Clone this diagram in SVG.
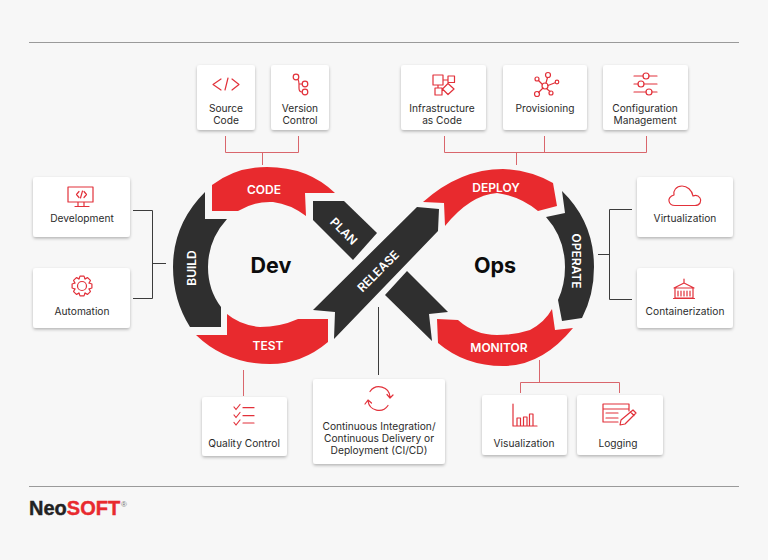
<svg xmlns="http://www.w3.org/2000/svg" width="768" height="560" viewBox="0 0 768 560">
<style>
.card{fill:#fff;filter:url(#sh)}
.t{font-family:"Inter","Liberation Sans",sans-serif;font-size:10.2px;fill:#2b2b2b;text-anchor:middle}
.s{font-family:"Inter","Liberation Sans",sans-serif;font-size:12px;font-weight:600;fill:#fff;text-anchor:middle;dominant-baseline:central}
.b{font-family:"Inter","Liberation Sans",sans-serif;font-size:21.500px;font-weight:700;fill:#0c0c0c;text-anchor:middle}
.red{fill:#e82a2e}.dark{fill:#2f2f2f}
.cr{fill:none;stroke:#d9666c;stroke-width:1}
.cd{fill:none;stroke:#3c3c3c;stroke-width:1}
.i{fill:none;stroke:#e2313a;stroke-width:1.2;stroke-linecap:round;stroke-linejoin:round}
.rule{stroke:#9a9a9a;stroke-width:1}
</style>
<defs>
<filter id="sh" x="-15%" y="-15%" width="130%" height="135%"><feDropShadow dx="0" dy="1.5" stdDeviation="1.6" flood-color="#000" flood-opacity="0.28"/></filter>
<polyline id="tooth" points="-3,-7.1 -2,-9.9 2,-9.9 3,-7.1"/>
</defs>
<rect width="768" height="560" fill="#f7f7f7"/>
<line class="rule" x1="29" y1="42.500" x2="739" y2="42.500"/>
<line class="rule" x1="29" y1="486.500" x2="739" y2="486.500"/>

<g id="connectors">
<path class="cr" d="M225.500 136V152.500H298.500V136M262.500 152.500V165"/>
<path class="cr" d="M444.500 136V152.500H646.500V136M544.500 136V152.500M516.500 152.500V165"/>
<path class="cd" d="M133 210.500H152.500V298.500H133M152.500 263.500H166"/>
<path class="cd" d="M632 209.500H609.500V299.500H632M609.500 254.500H598"/>
<path class="cr" d="M243.500 370V396"/>
<path class="cd" d="M378.500 307V375"/>
<path class="cr" d="M539.500 360V382.500M520.500 393V382.500H619.500V393"/>
</g>

<g id="loop-shapes">
<path id="code" class="red" d="M212 185Q236 167 267 167Q308 167 335 193L305 193L306 216Q290 204 273 202Q255 201 238 211L212 211Z"/>
<path id="build" class="dark" d="M205 192Q173 224 173 267Q173 300 190 327L221 327L221 307Q208 290 208 267Q208 240 227 219L205 219Z"/>
<path id="test" class="red" d="M196 335L227 335L227 314Q240 325 260 327Q280 327 298 319L328 319L328 342Q302 364 270 364Q226 364 196 335Z"/>
<path id="release" class="dark" d="M313 310L335 312L334 339L438 231L439 209L417 207Z"/>
<path id="plan" class="dark" d="M313 201L344 201L377 233L353 260L313 220Z"/>
<path id="tail" class="dark" d="M407 271L448 312L429 314L432 341L385 295Z"/>
<path id="deploy" class="red" d="M423 202Q460 169 503 169Q530 170 553 183L557 206L538 211Q520 196 497 193Q470 195 445 226L444 203Z"/>
<path id="operate" class="dark" d="M562 191Q594 222 594 267Q594 295 582 318L562 321L558 300Q565 285 565 267Q565 238 546 217L565 213Z"/>
<path id="monitor" class="red" d="M573 328Q542 366 503 366Q465 366 438 343L437 319L458 320Q475 335 497 335Q515 335 530 330Q545 322 552 309L555 330Z"/>
<text class="s" x="264" y="189">CODE</text>
<text class="s" transform="translate(191 268) rotate(-90)">BUILD</text>
<text class="s" x="268" y="345">TEST</text>
<text class="s" transform="translate(344 231) rotate(45)">PLAN</text>
<text class="s" transform="translate(378 271) rotate(-45)">RELEASE</text>
<text class="s" x="496" y="187">DEPLOY</text>
<text class="s" transform="translate(576 261) rotate(90)">OPERATE</text>
<text class="s" x="499" y="347">MONITOR</text>
<text class="b" x="271" y="273">Dev</text>
<text class="b" x="495" y="273">Ops</text>
</g>

<g id="source-code"><rect class="card" x="197" y="65" width="58" height="65" rx="3"/>
<path class="i" d="M221 79L213 84.500L221 90M225 90L228 78M232 79L239 84.500L232 90"/>
<text class="t" x="226" y="112">Source</text><text class="t" x="226" y="124">Code</text></g>

<g id="version-control"><rect class="card" x="271" y="65" width="58" height="65" rx="3"/>
<path class="i" d="M298 79.500Q299 81 299 84V88Q299 92 302 92M299 84H302"/><circle class="i" cx="296" cy="77" r="2.800"/><circle class="i" cx="305" cy="84" r="2.800"/><circle class="i" cx="305" cy="92" r="2.800"/>
<text class="t" x="300" y="112">Version</text><text class="t" x="300" y="124">Control</text></g>

<g id="infrastructure"><rect class="card" x="401" y="65" width="85" height="65" rx="3"/>
<path class="i" d="M433 75H443V85H433ZM448 76H454.500V82.500H448ZM435 88H442V95H435ZM448 83.500L454 89L448 94.500L442.500 89ZM443 80H448M438 85V88"/>
<text class="t" x="442" y="112">Infrastructure</text><text class="t" x="442" y="124">as Code</text></g>

<g id="provisioning"><rect class="card" x="503" y="65" width="84" height="65" rx="3"/>
<path class="i" d="M546 83L547.500 77.500M542.500 84.500L538.500 80.500M548 85.500L555 82.800M543 88L538.500 92.500M547 89L550 91.500"/><circle class="i" cx="545" cy="86" r="3"/><circle class="i" cx="548" cy="75" r="2.500"/><circle class="i" cx="537" cy="79" r="2"/><circle class="i" cx="557" cy="82" r="1.800"/><circle class="i" cx="537" cy="94" r="2.500"/><circle class="i" cx="551" cy="93" r="2"/>
<text class="t" x="545" y="112">Provisioning</text></g>

<g id="configuration"><rect class="card" x="603" y="65" width="85" height="65" rx="3"/>
<path class="i" d="M634 76H643M649 76H657M634 84H638M644 84H657M634 92H646M652 92H657"/><circle class="i" cx="646" cy="76" r="3"/><circle class="i" cx="641" cy="84" r="3"/><circle class="i" cx="649" cy="92" r="3"/>
<text class="t" x="645" y="112">Configuration</text><text class="t" x="645" y="124">Management</text></g>

<g id="development"><rect class="card" x="33" y="177" width="97" height="60" rx="3"/>
<path class="i" d="M68 187H93V202H68ZM78 202V206M84 202V206M75 206.500H89M79 191.500L76.500 194.500L79 197.500M84 191.500L86.500 194.500L84 197.500M82.500 191L80.500 198"/>
<text class="t" x="82" y="222">Development</text></g>

<g id="automation"><rect class="card" x="33" y="268" width="97" height="60" rx="3"/>
<g class="i" transform="translate(82 286)"><use href="#tooth"/><use href="#tooth" transform="rotate(45)"/><use href="#tooth" transform="rotate(90)"/><use href="#tooth" transform="rotate(135)"/><use href="#tooth" transform="rotate(180)"/><use href="#tooth" transform="rotate(225)"/><use href="#tooth" transform="rotate(270)"/><use href="#tooth" transform="rotate(315)"/><circle r="4.500"/></g>
<text class="t" x="82" y="315">Automation</text></g>

<g id="virtualization"><rect class="card" x="637" y="177" width="96" height="60" rx="3"/>
<path class="i" d="M675 205.500H695C700 205.500 702 201 700 198C698 195 695 195 693 196C692 190 687 186 682 186C676 186 673 191 674 195C670 196 668.500 199 669 201C669.500 204 672 205.500 675 205.500Z"/>
<text class="t" x="685" y="222">Virtualization</text></g>

<g id="containerization"><rect class="card" x="637" y="268" width="96" height="60" rx="3"/>
<path class="i" d="M684 279V283M674 288L684 283L694 288ZM675 288V298H693V288M678 291V296M681 291V296M684 291V296M687 291V296M690 291V296M673.500 298.500H694.500"/>
<text class="t" x="685" y="315">Containerization</text></g>

<g id="quality-control"><rect class="card" x="202" y="397" width="85" height="59" rx="3"/>
<path class="i" d="M234 407L236 409.500L240 404.500M243 407.700H254M234 415L236 417.500L240 412.500M243 415.700H254M234 422.500L236 425L240 420M243 423H254"/>
<text class="t" x="244" y="447">Quality Control</text></g>

<g id="cicd"><rect class="card" x="313" y="379" width="132" height="85" rx="3"/>
<path class="i" d="M370 391.500A11 11 0 0 1 390 397M388 405.500A11 11 0 0 1 368 401M387 394.500L390 398L393 395M365 404L368 400L371.500 403"/>
<text class="t" x="379" y="430">Continuous Integration/</text><text class="t" x="379" y="442">Continuous Delivery or</text><text class="t" x="379" y="454">Deployment (CI/CD)</text></g>

<g id="visualization"><rect class="card" x="482" y="395" width="85" height="60" rx="3"/>
<path class="i" d="M513 404V426H537M517 426V418H520.500V426M523.500 426V417H527V426M529.500 426V414H533V426"/>
<text class="t" x="524" y="447">Visualization</text></g>

<g id="logging"><rect class="card" x="577" y="395" width="86" height="60" rx="3"/>
<path class="i" d="M629 411V404H603V422H618M603 409H629M606 413H618M606 418H618M633 410L636 413L625 424L620 425L621 420ZM630.500 412L634 415.500"/>
<text class="t" x="618" y="447">Logging</text></g>

<g id="logo"><text x="29" y="515" font-family="Liberation Sans,sans-serif" font-size="20" font-weight="700" fill="#222" stroke="#222" stroke-width="0.4">Neo<tspan fill="#e82a2e" stroke="#e82a2e">SOFT</tspan></text>
<text x="121" y="507" font-family="Liberation Sans,sans-serif" font-size="8" fill="#777">®</text></g>
</svg>
